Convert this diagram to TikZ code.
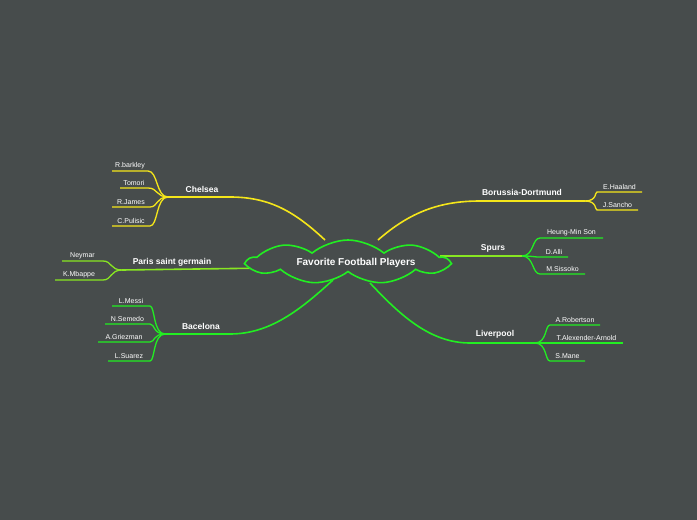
\documentclass[tikz,border=0pt]{standalone}
\usepackage{fontspec}
\setmainfont{Liberation Sans}
\usetikzlibrary{shapes.symbols,calc}
\definecolor{bg}{HTML}{474C4C}
\definecolor{yel}{HTML}{F5E61A}
\definecolor{grn}{HTML}{22EE22}
\definecolor{lim}{HTML}{88E622}
\tikzset{
 br/.style={line width=1.6pt},
 lf/.style={line width=1.3pt},
 mlab/.style={text=white,font=\bfseries\fontsize{8.5}{9}\selectfont,inner sep=0},
 llab/.style={text=white,font=\fontsize{7}{8}\selectfont,inner sep=0},
}
\begin{document}
\begin{tikzpicture}[x=1pt,y=-1pt]
\fill[bg] (0,0) rectangle (697,520);
\useasboundingbox (0,0) rectangle (697,520);
\newcommand{\leafL}[7]{%
 \coordinate (h) at (#1,#2); \coordinate (s) at (#3,#5); \coordinate (e) at (#4,#5);
 \draw[lf,#7] (h) .. controls (#1-12,#2) and (#1-10,#5) .. (s) -- (e);
 \node[llab,anchor=south] at ($(s)!0.5!(e)+(0,-2)$) {#6};}
\newcommand{\leafR}[7]{%
 \coordinate (h) at (#1,#2); \coordinate (s) at (#3,#5); \coordinate (e) at (#4,#5);
 \draw[lf,#7] (h) .. controls (#1+12,#2) and (#1+10,#5) .. (s) -- (e);
 \node[llab,anchor=south] at ($(s)!0.5!(e)+(0,-2)$) {#6};}
\coordinate (c1) at (325,240); \coordinate (ch) at (168,197);
\draw[br,yel] (c1) .. controls (295,212) and (270,197) .. (230,197) -- (ch);
\node[mlab] at (202,189) {Chelsea};
\coordinate (c2) at (378,240); \coordinate (bh) at (585,201);
\draw[br,yel] (c2) .. controls (410,212) and (440,201) .. (480,201) -- (bh);
\node[mlab] at (522,192) {Borussia-Dortmund};
\coordinate (c3) at (440,256); \coordinate (sh) at (522,256);
\draw[br,lim] (c3) -- (sh);
\node[mlab] at (493,248) {Spurs};
\coordinate (c4) at (370,283); \coordinate (lh) at (535,343);
\draw[br,grn] (c4) .. controls (400,315) and (430,343) .. (470,343) -- (lh);
\node[mlab] at (495,334) {Liverpool};
\coordinate (c5) at (270,268); \coordinate (ph) at (122,270);
\draw[br,lim] (c5) -- (ph);
\node[mlab] at (172,262) {Paris saint germain};
\coordinate (c6) at (333,280); \coordinate (bah) at (165,334);
\draw[br,grn] (c6) .. controls (300,310) and (270,334) .. (230,334) -- (bah);
\node[mlab] at (201,326) {Bacelona};
\node[cloud,draw=grn,line width=1.6pt,fill=bg,cloud puffs=9,cloud puff arc=80,aspect=5,minimum width=200pt,minimum height=44pt,inner sep=0] (center) at (348,262) {};
\node[text=white,font=\bfseries\fontsize{10}{11}\selectfont] at (356,263) {Favorite Football Players};
\leafL{168}{197}{148}{112}{171}{R.barkley}{yel}
\leafL{168}{197}{148}{120}{188}{Tomori}{yel}
\leafL{168}{197}{150}{112}{207}{R.James}{yel}
\leafL{168}{197}{150}{112}{226}{C.Pulisic}{yel}
\leafR{585}{201}{597}{642}{192}{E.Haaland}{yel}
\leafR{585}{201}{597}{638}{210}{J.Sancho}{yel}
\leafR{522}{256}{540}{603}{238}{Heung-Min Son}{grn}
\leafR{522}{256}{540}{568}{257}{D.Alli}{grn}
\leafR{522}{256}{540}{585}{274}{M.Sissoko}{grn}
\leafR{535}{343}{550}{600}{325}{A.Robertson}{grn}
\leafR{535}{343}{550}{623}{343}{T.Alexender-Arnold}{grn}
\leafR{535}{343}{550}{585}{361}{S.Mane}{grn}
\leafL{122}{270}{103}{62}{261}{Neymar}{lim}
\leafL{122}{270}{103}{55}{280}{K.Mbappe}{lim}
\leafL{165}{334}{150}{112}{306}{L.Messi}{grn}
\leafL{165}{334}{150}{105}{324}{N.Semedo}{grn}
\leafL{165}{334}{150}{98}{342}{A.Griezman}{grn}
\leafL{165}{334}{150}{108}{361}{L.Suarez}{grn}
\end{tikzpicture}
\end{document}
